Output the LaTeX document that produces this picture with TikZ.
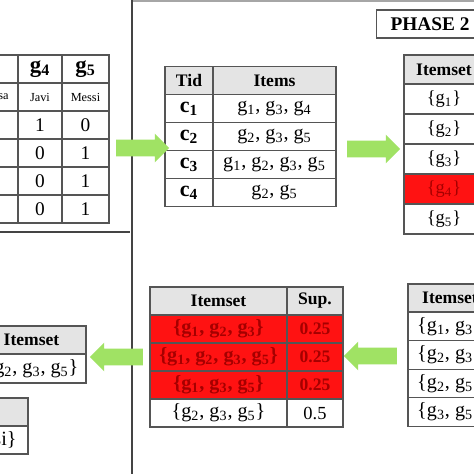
\documentclass[tikz,border=0pt]{standalone}
\usepackage{fontspec}
\setmainfont{Liberation Serif}
\usetikzlibrary{shapes.arrows}

\definecolor{tabline}{RGB}{85,85,85}
\definecolor{headgray}{RGB}{228,228,228}
\definecolor{hotred}{RGB}{255,18,18}
\definecolor{hottext}{RGB}{165,0,0}
\definecolor{arrowgreen}{RGB}{160,226,100}
\newcommand{\gs}[1]{g\textsubscript{#1}}
\newcommand{\fs}[1]{\fontsize{#1}{#1}\selectfont}

\begin{document}
\begin{tikzpicture}[
  x=0.02cm, y=-0.02cm,
  cell/.style={draw=tabline, line width=0.6pt, inner sep=0pt, minimum height=0.56cm, font=\fs{11.5}},
  head/.style={cell, fill=headgray, font=\fs{10}\bfseries},
  hot/.style={cell, fill=hotred, text=hottext, font=\fs{11.5}\bfseries},
  blockarrow/.style={single arrow, fill=arrowgreen, inner sep=0.16cm, minimum height=1.06cm,
    minimum width=0.56cm, single arrow head extend=0.12cm, single arrow head indent=0pt}
]
  \useasboundingbox (0,0) rectangle (474,474);
  \clip (0,0) rectangle (474,474);
  \fill[white] (0,0) rectangle (474,474);

  % panel lines
  \draw[gray!70, line width=1.2pt] (133,1) -- (474,1);
  \draw[tabline!80!black, line width=0.9pt] (132,0) -- (132,474);
  \draw[tabline!80!black, line width=0.9pt] (0,232) -- (130,232);

  % binary table
  \node[cell, minimum width=0.88cm] (nA) at (-4,69) {};
  \node[cell, minimum width=0.88cm, font=\fs{13}\bfseries] (n4) at (40,69) {\gs{4}};
  \node[cell, minimum width=0.94cm, font=\fs{13}\bfseries] (n5) at (85.5,69) {\gs{5}};
  \node[cell, minimum width=0.88cm] (mA) at (-4,97) {};
  \node[cell, minimum width=0.88cm, font=\fs{7}] (m4) at (40,97) {Javi};
  \node[cell, minimum width=0.94cm, font=\fs{7}] (m5) at (85.5,97) {Messi};
  \node[font=\fs{7}, anchor=east, inner sep=0pt] (mAtxt) at (9,97) {sa};
  \foreach \a/\b [count=\i] in {1/0, 0/1, 0/1, 0/1} {
    \node[cell, minimum width=0.88cm] (rA\i) at (-4,97+28*\i) {};
    \node[cell, minimum width=0.88cm, font=\fs{11}] (r4\i) at (40,97+28*\i) {\a};
    \node[cell, minimum width=0.94cm, font=\fs{11}] (r5\i) at (85.5,97+28*\i) {\b};
  }

  % transaction table
  \node[head, minimum width=0.96cm] (tid) at (189,80.5) {Tid};
  \node[head, minimum width=2.46cm] (items) at (274.5,80.5) {Items};
  \foreach \its [count=\i] in {{\gs{1}, \gs{3}, \gs{4}}, {\gs{2}, \gs{3}, \gs{5}},
      {\gs{1}, \gs{2}, \gs{3}, \gs{5}}, {\gs{2}, \gs{5}}} {
    \node[cell, minimum width=0.96cm, font=\fs{12.5}\bfseries] (c\i) at (189,80.5+28*\i) {c\textsubscript{\i}};
    \node[cell, minimum width=2.46cm] (it\i) at (274.5,80.5+28*\i) {\its};
  }

  % phase 2
  \node[draw=tabline, line width=0.6pt, anchor=west, inner xsep=0.28cm, minimum height=0.56cm,
    font=\fs{11}\bfseries] (phase) at (376,24) {PHASE 2};
  \node[head, minimum width=1.6cm, minimum height=0.58cm] (oneset) at (444,69.5) {Itemset};
  \foreach \k [count=\i] in {1,2,3,4,5} {
    \node[cell, minimum width=1.6cm, minimum height=0.6cm, font=\fs{10.5}] (one\i) at (444,69+30*\i) {\{\gs{\k}\}};
  }
  \node[cell, fill=hotred, text=hottext, minimum width=1.6cm, minimum height=0.6cm, font=\fs{10.5}] (one4) at (444,189) {\{\gs{4}\}};

  % pair table
  \node[head, minimum width=1.68cm] (twoset) at (450,298) {Itemset};
  \foreach \its [count=\i] in {{\gs{1}, \gs{3}}, {\gs{2}, \gs{3}}, {\gs{2}, \gs{5}}, {\gs{3}, \gs{5}}} {
    \node[cell, minimum width=1.68cm, minimum height=0.57cm] (two\i) at (450,298+28.5*\i) {\{\its\}};
  }

  % support table
  \node[head, minimum width=2.74cm] (supset) at (218.5,301) {Itemset};
  \node[head, minimum width=1.12cm] (sup) at (315,301) {Sup.};
  \foreach \its [count=\i] in {{\gs{1}, \gs{2}, \gs{3}}, {\gs{1}, \gs{2}, \gs{3}, \gs{5}}, {\gs{1}, \gs{3}, \gs{5}}} {
    \node[hot, minimum width=2.74cm] (s\i) at (218.5,301+28*\i) {\{\its\}};
    \node[hot, minimum width=1.12cm, font=\fs{10}\bfseries] (v\i) at (315,301+28*\i) {0.25};
  }
  \node[cell, minimum width=2.74cm] (s4) at (218.5,413) {\{\gs{2}, \gs{3}, \gs{5}\}};
  \node[cell, minimum width=1.12cm, font=\fs{10.5}] (v4) at (315,413) {0.5};

  % result tables
  \node[head, minimum width=2.18cm] (resset) at (31.5,340) {Itemset};
  \node[cell, minimum width=2.18cm, minimum height=0.58cm] (res1) at (31.5,368.5) {\{\gs{2}, \gs{3}, \gs{5}\}};
  \node[head, minimum width=1.92cm] (namehd) at (-20,412) {};
  \node[cell, minimum width=1.92cm] (name1) at (-20,440) {};
  \node[font=\fs{11.5}, anchor=east, inner sep=0pt] (name1txt) at (17,440) {si\}};

  % green arrows
  \node[blockarrow] (arr1) at (138.5,148) {};
  \node[blockarrow] (arr2) at (369.5,149) {};
  \node[blockarrow, shape border rotate=180] (arr3) at (374.5,356) {};
  \node[blockarrow, shape border rotate=180] (arr4) at (120.5,357) {};
\end{tikzpicture}
\end{document}
